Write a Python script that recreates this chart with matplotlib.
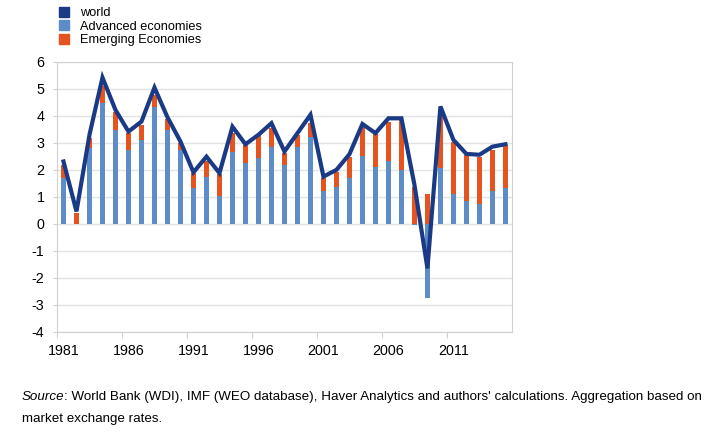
import matplotlib
matplotlib.use("Agg")
import matplotlib.pyplot as plt
import numpy as np
from matplotlib.lines import Line2D


# 数据：估计值
YEARS = list(range(1981, 2016))
ADVANCED = [1.69, 0.00, 2.80, 4.47, 3.48, 2.72, 3.11, 4.32, 3.48, 2.74,
            1.32, 1.73, 1.04, 2.65, 2.27, 2.43, 2.84, 2.19, 2.84, 3.23,
            1.22, 1.35, 1.69, 2.53, 2.10, 2.33, 2.00, -0.05, -2.74, 2.06,
            1.10, 0.86, 0.74, 1.22, 1.32]
EMERGING = [0.50, 0.42, 0.37, 0.65, 0.68, 0.64, 0.56, 0.46, 0.41, 0.25,
            0.56, 0.58, 0.80, 0.71, 0.66, 0.87, 0.70, 0.43, 0.46, 0.50,
            0.47, 0.56, 0.80, 1.04, 1.22, 1.46, 1.85, 1.35, 1.10, 2.15,
            1.92, 1.70, 1.75, 1.52, 1.61]
WORLD = [2.31, 0.46, 3.30, 5.42, 4.22, 3.42, 3.79, 5.05, 3.95, 3.05,
         1.91, 2.49, 1.88, 3.60, 2.95, 3.30, 3.73, 2.68, 3.36, 4.04,
         1.75, 2.00, 2.58, 3.70, 3.36, 3.91, 3.91, 1.45, -1.65, 4.35,
         3.11, 2.59, 2.56, 2.86, 2.95]
LABEL_YEARS = [1981, 1986, 1991, 1996, 2001, 2006, 2011]

WORLD_COLOR = "#1b3a86"
ADVANCED_COLOR = "#5e8cc8"
EMERGING_COLOR = "#e5541e"
FRAME_COLOR = "#d0d0d0"
GRID_COLOR = "#e3e3e3"

plt.rcParams["font.family"] = ["Liberation Sans", "DejaVu Sans"]
plt.rcParams["axes.unicode_minus"] = False

fig = plt.figure(figsize=(7.25, 4.36), dpi=100)
ax = fig.add_axes([0.0786, 0.239, 0.6275, 0.619])

x = np.arange(len(YEARS))
advanced = np.array(ADVANCED)
emerging_bottom = np.clip(advanced, 0, None)

ax.bar(x, advanced, width=0.42, color=ADVANCED_COLOR, zorder=2)
ax.bar(x, EMERGING, width=0.42, bottom=emerging_bottom, color=EMERGING_COLOR, zorder=2)
ax.plot(x, WORLD, color=WORLD_COLOR, linewidth=3, solid_joinstyle="miter", zorder=3)

ax.set_xlim(-0.5, len(YEARS) - 0.5)
ax.set_ylim(-4, 6)
ax.set_yticks(range(-4, 7))
ax.yaxis.grid(True, color=GRID_COLOR, linewidth=1)
ax.set_axisbelow(True)

# 类别轴：刻度线在类别边界，标签在柱子中心
label_pos = [YEARS.index(y) for y in LABEL_YEARS]
ax.set_xticks([p - 0.5 for p in label_pos])
ax.set_xticklabels([])
ax.set_xticks(label_pos, minor=True)
ax.set_xticklabels([str(y) for y in LABEL_YEARS], minor=True)
ax.tick_params(axis="x", which="major", length=4, color=FRAME_COLOR)
ax.tick_params(axis="x", which="minor", length=0, pad=9, labelsize=10.3)
ax.tick_params(axis="y", length=3, color=FRAME_COLOR, labelsize=10.3, pad=6)

for spine in ax.spines.values():
    spine.set_color(FRAME_COLOR)

handles = [
    Line2D([], [], linestyle="none", marker="s", markersize=6.5, color=WORLD_COLOR),
    Line2D([], [], linestyle="none", marker="s", markersize=6.5, color=ADVANCED_COLOR),
    Line2D([], [], linestyle="none", marker="s", markersize=6.5, color=EMERGING_COLOR),
]
fig.legend(handles, ["world", "Advanced economies", "Emerging Economies"],
           loc="upper left", bbox_to_anchor=(0.074, 0.995), frameon=False,
           fontsize=9.2, handlelength=0.8, handletextpad=0.9, labelspacing=0.12,
           borderaxespad=0)

# 资料来源：斜体 "Source" 后接正文
source = fig.text(0.03, 0.09, "Source", fontsize=9.6, style="italic",
                  ha="left", va="center")
fig.add_artist(plt.Annotation(
    ": World Bank (WDI), IMF (WEO database), Haver Analytics and authors' "
    "calculations. Aggregation based on",
    xy=(1, 0.5), xycoords=source, ha="left", va="center", fontsize=9.6))
fig.text(0.03, 0.04, "market exchange rates.", fontsize=9.6, ha="left", va="center")

fig.savefig("out.png", dpi=100)
